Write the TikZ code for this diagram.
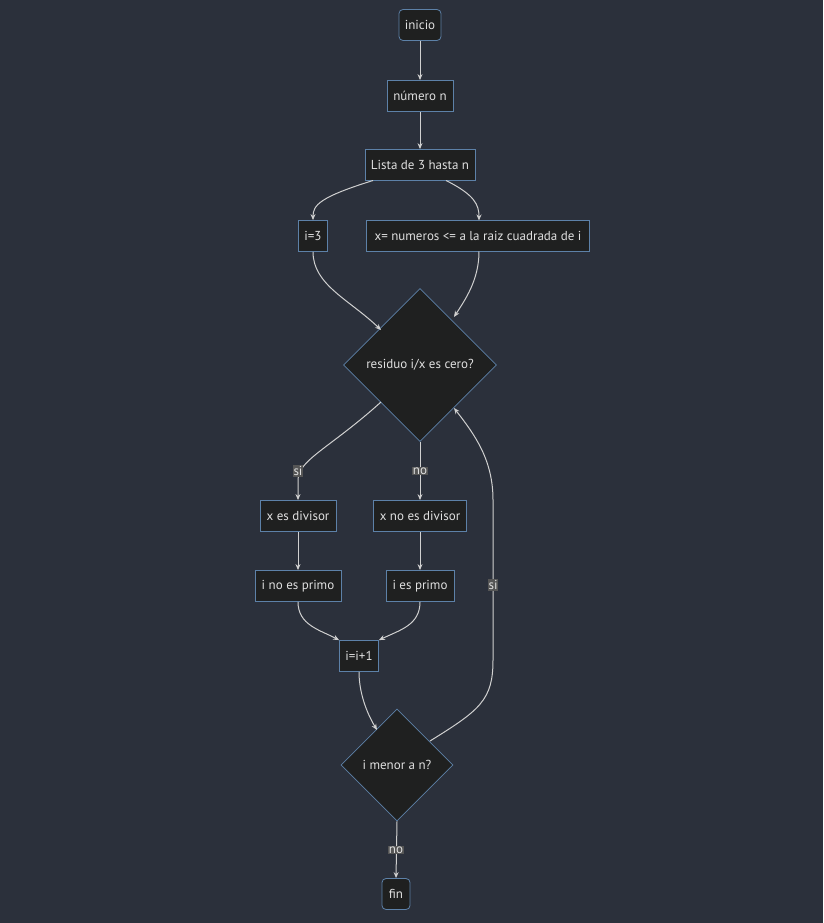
\documentclass[tikz,border=0pt]{standalone}
\usepackage{fontspec}
\setmainfont{PT Sans}
\usetikzlibrary{shapes.geometric,arrows.meta}
\definecolor{bg}{HTML}{2B303B}
\definecolor{nf}{HTML}{1F2020}
\definecolor{nb}{HTML}{5D81A8}
\definecolor{tx}{HTML}{E0E0E0}
\definecolor{ed}{HTML}{D0D0D0}
\definecolor{lb}{HTML}{555555}
\tikzset{
 box/.style={draw=nb,fill=nf,text=tx,line width=0.8pt,minimum height=31pt,inner sep=0pt,font=\fontsize{13}{15}\selectfont},
 rbox/.style={box,rounded corners=4pt},
 dia/.style={draw=nb,fill=nf,text=tx,line width=0.8pt,diamond,inner sep=0pt,font=\fontsize{13}{15}\selectfont},
 edge/.style={draw=ed,line width=1pt,-{Stealth[length=6pt,width=5pt]}},
 lab/.style={fill=lb,text=tx,inner sep=1pt,font=\fontsize{13}{15}\selectfont}
}
\begin{document}
\begin{tikzpicture}[x=1pt,y=-1pt]
\fill[bg] (0,0) rectangle (823,923);
\useasboundingbox (0,0) rectangle (823,923);
\node[rbox,minimum width=42pt] (ini) at (420,25) {inicio};
\node[box,minimum width=66pt] (num) at (420,96) {número n};
\node[box,minimum width=110pt] (lis) at (420,165) {Lista de 3 hasta n};
\node[box,minimum width=29pt] (i3) at (313,236) {i=3};
\node[box,minimum width=223pt] (xr) at (478,236) {x= numeros <= a la raiz cuadrada de i};
\node[dia,minimum width=153pt,minimum height=153pt] (res) at (420,365) {residuo i/x es cero?};
\node[box,minimum width=76pt] (xd) at (298,516) {x es divisor};
\node[box,minimum width=93pt] (xnd) at (420,516) {x no es divisor};
\node[box,minimum width=86pt] (inp) at (298,586) {i no es primo};
\node[box,minimum width=68pt] (iep) at (420,586) {i es primo};
\node[box,minimum width=39pt] (inc) at (359,656) {i=i+1};
\node[dia,minimum width=112pt,minimum height=112pt] (men) at (397,765) {i menor a n?};
\node[rbox,minimum width=28pt] (fin) at (396,894) {fin};
\draw[edge] (ini) -- (num);
\draw[edge] (num) -- (lis);
\draw[edge] (373,180.5) .. controls (320,197) and (313,205) .. (i3.north);
\draw[edge] (446,180.5) .. controls (475,195) and (479,205) .. (479,220.5);
\draw[edge] (i3.south) .. controls (313,285) and (350,300) .. (381,330);
\draw[edge] (479,251.5) .. controls (479,280) and (465,300) .. (454,317);
\draw[edge] (381,402) .. controls (330,448) and (298,460) .. (298,480) -- (xd.north);
\draw[edge] (res.south) -- (xnd.north);
\draw[edge] (xd) -- (inp);
\draw[edge] (xnd) -- (iep);
\draw[edge] (inp.south) .. controls (298,625) and (320,630) .. (inc.north west);
\draw[edge] (iep.south) .. controls (420,625) and (400,630) .. (inc.north east);
\draw[edge] (inc.south) .. controls (359,690) and (365,710) .. (377,730);
\draw[edge] (430,741) .. controls (480,710) and (493,700) .. (493,660) -- (493,500) .. controls (493,460) and (475,435) .. (454,408);
\draw[edge] (men.south) -- (fin.north);
\node[lab] (l1) at (298,471) {si};
\node[lab] (l2) at (420,471) {no};
\node[lab] (l3) at (493,585) {si};
\node[lab] (l4) at (396,850) {no};
\end{tikzpicture}
\end{document}
